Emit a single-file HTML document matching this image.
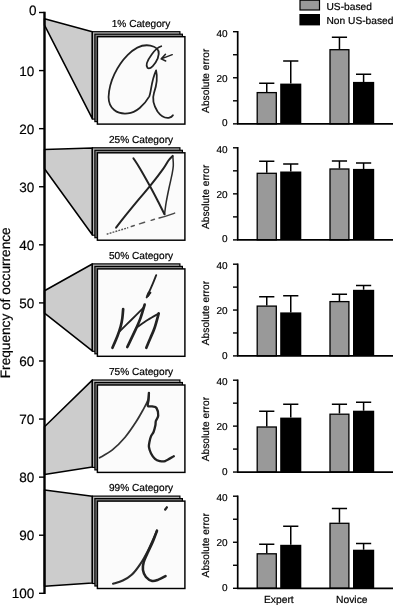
<!DOCTYPE html><html><head><meta charset="utf-8"><title>Figure</title>
<style>html,body{margin:0;padding:0;background:#fff}svg{display:block}text{font-family:"Liberation Sans",Arial,sans-serif;fill:#000;stroke:#000;stroke-width:0.2px;text-rendering:geometricPrecision}</style></head><body>
<svg width="393" height="605" viewBox="0 0 393 605">
<rect width="393" height="605" fill="#fff"/>
<polygon points="44.5,18.8 92.3,31.8 92.3,118.6 44.5,25.2" fill="#cccccc" stroke="#000" stroke-width="1.55" stroke-linejoin="round"/>
<polygon points="44.5,149.5 92.3,147.9 92.3,234.7 44.5,168.7" fill="#cccccc" stroke="#000" stroke-width="1.55" stroke-linejoin="round"/>
<polygon points="44.5,290.8 92.3,264.0 92.3,350.79999999999995 44.5,313.2" fill="#cccccc" stroke="#000" stroke-width="1.55" stroke-linejoin="round"/>
<polygon points="44.5,426.7 92.3,380.09999999999997 92.3,466.9 44.5,474.4" fill="#cccccc" stroke="#000" stroke-width="1.55" stroke-linejoin="round"/>
<polygon points="44.5,490.1 92.3,496.2 92.3,583.0 44.5,586.2" fill="#cccccc" stroke="#000" stroke-width="1.55" stroke-linejoin="round"/>
<line x1="44.5" y1="11.8" x2="44.5" y2="594.0" stroke="#000" stroke-width="2.4"/>
<line x1="39" y1="12.50" x2="44.5" y2="12.50" stroke="#000" stroke-width="1.4"/>
<text x="36.5" y="14.90" font-size="13.5" text-anchor="end">0</text>
<line x1="39" y1="70.58" x2="44.5" y2="70.58" stroke="#000" stroke-width="1.4"/>
<text x="34.2" y="75.58" font-size="13.5" text-anchor="end">10</text>
<line x1="39" y1="128.66" x2="44.5" y2="128.66" stroke="#000" stroke-width="1.4"/>
<text x="34.2" y="133.66" font-size="13.5" text-anchor="end">20</text>
<line x1="39" y1="186.74" x2="44.5" y2="186.74" stroke="#000" stroke-width="1.4"/>
<text x="34.2" y="191.74" font-size="13.5" text-anchor="end">30</text>
<line x1="39" y1="244.82" x2="44.5" y2="244.82" stroke="#000" stroke-width="1.4"/>
<text x="34.2" y="249.82" font-size="13.5" text-anchor="end">40</text>
<line x1="39" y1="302.90" x2="44.5" y2="302.90" stroke="#000" stroke-width="1.4"/>
<text x="34.2" y="307.90" font-size="13.5" text-anchor="end">50</text>
<line x1="39" y1="360.98" x2="44.5" y2="360.98" stroke="#000" stroke-width="1.4"/>
<text x="34.2" y="365.98" font-size="13.5" text-anchor="end">60</text>
<line x1="39" y1="419.06" x2="44.5" y2="419.06" stroke="#000" stroke-width="1.4"/>
<text x="34.2" y="424.06" font-size="13.5" text-anchor="end">70</text>
<line x1="39" y1="477.14" x2="44.5" y2="477.14" stroke="#000" stroke-width="1.4"/>
<text x="34.2" y="482.14" font-size="13.5" text-anchor="end">80</text>
<line x1="39" y1="535.22" x2="44.5" y2="535.22" stroke="#000" stroke-width="1.4"/>
<text x="34.2" y="540.22" font-size="13.5" text-anchor="end">90</text>
<line x1="39" y1="593.30" x2="44.5" y2="593.30" stroke="#000" stroke-width="1.4"/>
<text x="34.2" y="598.30" font-size="13.5" text-anchor="end">100</text>
<text transform="translate(9.6,302.8) rotate(-90)" font-size="13.65" text-anchor="middle">Frequency of occurrence</text>
<rect x="92.40" y="31.70" width="87.5" height="87.4" fill="#b4b4b4" stroke="#000" stroke-width="1.2"/>
<rect x="94.90" y="34.20" width="87.5" height="87.4" fill="#858585" stroke="#000" stroke-width="1.2"/>
<rect x="97.40" y="36.70" width="87.5" height="87.4" fill="#fbfbfb" stroke="#000" stroke-width="1.45"/>
<svg x="95" y="35.00" width="92" height="92" viewBox="0 0 393 393"><g fill="none" stroke="#222" stroke-width="6" stroke-linecap="round" stroke-linejoin="round">
<path d="M283 48 C270 52 256 64 243 82 C226 105 214 128 224 140 C236 150 258 124 268 100 C277 76 273 58 252 50 C215 35 175 50 140 85 C95 130 60 200 58 265 C58 315 95 340 140 335 C175 333 210 300 232 262 C241 240 239 200 261 151 C268 180 264 212 252 248 C244 272 247 295 267 327 C280 345 300 356 315 354 C325 352 330 348 333 343" stroke-width="7.5"/>
<path d="M330 84 L283 102 M301 82 L283 102 L302 111" stroke-width="6.5"/>
</g></svg>
<text x="141" y="27.30" font-size="10.15" text-anchor="middle">1% Category</text>
<rect x="92.40" y="147.80" width="87.5" height="87.4" fill="#b4b4b4" stroke="#000" stroke-width="1.2"/>
<rect x="94.90" y="150.30" width="87.5" height="87.4" fill="#858585" stroke="#000" stroke-width="1.2"/>
<rect x="97.40" y="152.80" width="87.5" height="87.4" fill="#fbfbfb" stroke="#000" stroke-width="1.45"/>
<svg x="95" y="151.10" width="92" height="92" viewBox="0 0 393 393"><g fill="none" stroke="#222" stroke-width="6" stroke-linecap="round" stroke-linejoin="round">
<path d="M297.0 270.0 C298.2 261.6 300.9 237.6 304.0 219.4 C307.1 201.2 311.4 180.3 315.5 160.7 C319.6 141.1 325.3 118.3 328.5 102.0 C331.7 85.7 333.8 76.2 334.5 62.9 C335.2 49.6 332.8 28.8 332.5 22.0" stroke-width="6.5" stroke="#2a2a2a"/>
<path d="M164.0 30.4 C168.9 38.0 181.4 55.9 193.3 76.0 C205.2 96.1 223.2 128.2 235.7 151.0 C248.2 173.8 258.1 193.1 268.3 212.9 C278.5 232.7 292.2 260.5 297.0 270.0 M332.0 20.6 C329.0 23.9 320.7 30.9 313.9 40.1 C307.1 49.3 303.6 58.6 291.1 76.0 C278.6 93.4 256.3 122.7 238.9 144.4 C221.5 166.1 205.3 184.1 186.8 206.4 C168.3 228.7 144.2 258.0 128.1 278.1 C112.0 298.2 96.3 318.9 90.0 327.0" stroke-width="8.5"/>
<path d="M50 355 L142 327" stroke="#555" stroke-width="6" stroke-linecap="butt" stroke-dasharray="8 5"/>
<path d="M155 322 L168 318 M190 311 L212 304 M240 296 L254 291" stroke="#555" stroke-width="6"/>
<path d="M274 286 C300 280 320 272 340 265" stroke="#444" stroke-width="6.5"/>
</g></svg>
<text x="141" y="143.27" font-size="10.15" text-anchor="middle">25% Category</text>
<rect x="92.40" y="263.90" width="87.5" height="87.4" fill="#b4b4b4" stroke="#000" stroke-width="1.2"/>
<rect x="94.90" y="266.40" width="87.5" height="87.4" fill="#858585" stroke="#000" stroke-width="1.2"/>
<rect x="97.40" y="268.90" width="87.5" height="87.4" fill="#fbfbfb" stroke="#000" stroke-width="1.45"/>
<svg x="95" y="267.20" width="92" height="92" viewBox="0 0 393 393"><g fill="none" stroke="#222" stroke-width="6" stroke-linecap="round" stroke-linejoin="round">
<path d="M261.5 34.0 C259.1 39.9 252.1 58.1 247.4 69.3 C242.7 80.5 237.8 91.0 233.3 101.0 C228.8 111.0 222.7 124.6 220.6 129.3 L237 109" stroke-width="8"/>
<path d="M226 120 L231 110" stroke-width="12"/>
<path d="M120.3 178.7 C119.7 185.2 118.5 205.2 116.8 217.5 C115.0 229.8 113.3 239.9 109.8 252.8 C106.3 265.7 101.5 279.8 95.6 295.1 C89.7 310.4 78.0 336.3 74.5 344.5 M212.1 160.0 C211.5 161.9 211.5 162.0 208.6 171.6 C205.7 181.2 200.3 201.6 194.4 217.5 C188.5 233.4 182.7 246.3 173.3 266.9 C163.9 287.5 143.9 328.6 138.0 341.0 M272.1 197.7 C269.2 208.0 260.3 242.4 254.4 259.8 C248.5 277.2 242.7 288.1 236.8 302.2 C230.9 316.3 222.1 337.4 219.2 344.5" stroke-width="11.5"/>
<path d="M103.0 276.0 C111.8 267.4 138.0 241.9 155.6 224.5 C173.2 207.1 199.8 180.4 208.6 171.6 M178.0 258.0 C186.0 252.4 210.5 234.6 226.2 224.5 C241.9 214.4 264.5 202.2 272.1 197.7" stroke-width="8"/>
</g></svg>
<text x="141" y="259.24" font-size="10.15" text-anchor="middle">50% Category</text>
<rect x="92.40" y="380.00" width="87.5" height="87.4" fill="#b4b4b4" stroke="#000" stroke-width="1.2"/>
<rect x="94.90" y="382.50" width="87.5" height="87.4" fill="#858585" stroke="#000" stroke-width="1.2"/>
<rect x="97.40" y="385.00" width="87.5" height="87.4" fill="#fbfbfb" stroke="#000" stroke-width="1.45"/>
<svg x="95" y="383.30" width="92" height="92" viewBox="0 0 393 393"><g fill="none" stroke="#222" stroke-width="6" stroke-linecap="round" stroke-linejoin="round">
<path d="M19.6 318.0 C28.5 312.6 54.8 300.3 73.0 285.7 C91.2 271.1 111.6 250.3 128.6 230.3 C145.6 210.3 161.7 185.7 174.8 165.6 C187.9 145.5 198.7 125.4 207.2 110.0 C215.7 94.6 221.8 84.5 225.7 73.0 C229.5 61.5 229.5 46.2 230.3 40.8" stroke-width="7.5" stroke="#333"/>
<path d="M230.3 40.8 C230.1 45.7 229.8 60.8 229.0 70.0 C228.2 79.2 223.2 91.5 225.7 96.3 C228.2 101.1 237.8 97.5 244.0 99.0 C250.2 100.5 258.3 99.0 262.6 105.5 C266.9 112.0 270.4 128.7 270.0 137.9 C269.6 147.2 261.9 154.1 259.9 161.0 C257.9 167.9 259.6 171.8 258.0 179.5 C256.4 187.2 253.7 199.5 250.6 207.2 C247.5 214.9 242.4 218.8 239.5 225.7 C236.6 232.6 234.5 241.1 233.0 248.8 C231.5 256.5 229.2 263.4 230.3 271.9 C231.4 280.4 235.2 291.1 239.5 299.6 C243.8 308.1 250.0 317.3 256.2 322.7 C262.4 328.1 269.3 330.4 276.5 332.0 C283.7 333.6 289.6 335.4 299.6 332.0 C309.6 328.6 330.4 315.0 336.6 311.6" stroke-width="10"/>
</g></svg>
<text x="141" y="375.21" font-size="10.15" text-anchor="middle">75% Category</text>
<rect x="92.40" y="496.10" width="87.5" height="87.4" fill="#b4b4b4" stroke="#000" stroke-width="1.2"/>
<rect x="94.90" y="498.60" width="87.5" height="87.4" fill="#858585" stroke="#000" stroke-width="1.2"/>
<rect x="97.40" y="501.10" width="87.5" height="87.4" fill="#fbfbfb" stroke="#000" stroke-width="1.45"/>
<svg x="95" y="499.40" width="92" height="92" viewBox="0 0 393 393"><g fill="none" stroke="#222" stroke-width="6" stroke-linecap="round" stroke-linejoin="round">
<path d="M300 43 L307 34" stroke-width="10"/>
<path d="M76.9 360.2 C83.9 357.9 105.5 352.8 118.8 346.5 C132.1 340.2 144.1 334.2 156.8 322.2 C169.5 310.2 183.4 291.2 194.8 274.3 C206.2 257.4 216.3 238.1 225.2 221.0 C234.1 203.9 241.5 186.2 248.1 171.6 C254.7 157.0 262.0 139.9 264.8 133.6" stroke-width="9" stroke="#2a2a2a"/>
<path d="M264.8 133.6 C261.7 141.8 252.8 166.9 246.0 183.0 C239.2 199.1 230.3 215.8 224.0 230.0 C217.7 244.2 211.2 256.2 208.0 268.0 C204.8 279.8 203.1 290.3 204.7 300.9 C206.3 311.4 211.0 323.4 217.6 331.3 C224.2 339.2 235.4 346.2 244.3 348.1 C253.2 350.0 261.4 346.1 270.9 342.7 C280.4 339.3 296.2 330.0 301.3 327.5" stroke-width="11"/>
</g></svg>
<text x="141" y="491.18" font-size="10.15" text-anchor="middle">99% Category</text>
<path d="M266.75 92.00V83.20M259.15 83.20H274.35" stroke="#000" stroke-width="1.5" fill="none"/>
<rect x="257.20" y="92.60" width="19.10" height="31.25" fill="#999999" stroke="#000" stroke-width="1.3"/>
<path d="M290.75 83.60V61.10M283.15 61.10H298.35" stroke="#000" stroke-width="1.5" fill="none"/>
<rect x="280.20" y="83.60" width="21.10" height="40.25" fill="#000"/>
<path d="M339.45 49.10V37.20M331.85 37.20H347.05" stroke="#000" stroke-width="1.5" fill="none"/>
<rect x="330.00" y="49.70" width="18.90" height="74.15" fill="#999999" stroke="#000" stroke-width="1.3"/>
<path d="M363.60 81.90V74.30M356.00 74.30H371.20" stroke="#000" stroke-width="1.5" fill="none"/>
<rect x="353.00" y="81.90" width="21.20" height="41.95" fill="#000"/>
<path d="M237.7 31.00V123.85M237.0 123.85H394" stroke="#000" stroke-width="1.7" fill="none"/>
<line x1="233" y1="31.70" x2="237.7" y2="31.70" stroke="#000" stroke-width="1.4"/>
<text x="227.6" y="36.60" font-size="10" text-anchor="end">40</text>
<line x1="233" y1="54.74" x2="237.7" y2="54.74" stroke="#000" stroke-width="1.4"/>
<line x1="233" y1="77.77" x2="237.7" y2="77.77" stroke="#000" stroke-width="1.4"/>
<text x="227.6" y="81.75" font-size="10" text-anchor="end">20</text>
<line x1="233" y1="100.81" x2="237.7" y2="100.81" stroke="#000" stroke-width="1.4"/>
<line x1="233" y1="123.85" x2="237.7" y2="123.85" stroke="#000" stroke-width="1.4"/>
<text x="227.6" y="126.30" font-size="10" text-anchor="end">0</text>
<text transform="translate(208.7,80.77) rotate(-90)" font-size="10.25" text-anchor="middle">Absolute error</text>
<path d="M266.75 172.70V161.30M259.15 161.30H274.35" stroke="#000" stroke-width="1.5" fill="none"/>
<rect x="257.20" y="173.30" width="19.10" height="66.60" fill="#999999" stroke="#000" stroke-width="1.3"/>
<path d="M290.75 171.50V164.00M283.15 164.00H298.35" stroke="#000" stroke-width="1.5" fill="none"/>
<rect x="280.20" y="171.50" width="21.10" height="68.40" fill="#000"/>
<path d="M339.45 168.40V161.00M331.85 161.00H347.05" stroke="#000" stroke-width="1.5" fill="none"/>
<rect x="330.00" y="169.00" width="18.90" height="70.90" fill="#999999" stroke="#000" stroke-width="1.3"/>
<path d="M363.60 168.90V163.00M356.00 163.00H371.20" stroke="#000" stroke-width="1.5" fill="none"/>
<rect x="353.00" y="168.90" width="21.20" height="71.00" fill="#000"/>
<path d="M237.7 147.10V239.90M237.0 239.90H394" stroke="#000" stroke-width="1.7" fill="none"/>
<line x1="233" y1="147.80" x2="237.7" y2="147.80" stroke="#000" stroke-width="1.4"/>
<text x="227.6" y="152.70" font-size="10" text-anchor="end">40</text>
<line x1="233" y1="170.83" x2="237.7" y2="170.83" stroke="#000" stroke-width="1.4"/>
<line x1="233" y1="193.85" x2="237.7" y2="193.85" stroke="#000" stroke-width="1.4"/>
<text x="227.6" y="197.85" font-size="10" text-anchor="end">20</text>
<line x1="233" y1="216.88" x2="237.7" y2="216.88" stroke="#000" stroke-width="1.4"/>
<line x1="233" y1="239.90" x2="237.7" y2="239.90" stroke="#000" stroke-width="1.4"/>
<text x="227.6" y="242.40" font-size="10" text-anchor="end">0</text>
<text transform="translate(208.7,196.85) rotate(-90)" font-size="10.25" text-anchor="middle">Absolute error</text>
<path d="M266.75 305.50V296.70M259.15 296.70H274.35" stroke="#000" stroke-width="1.5" fill="none"/>
<rect x="257.20" y="306.10" width="19.10" height="49.80" fill="#999999" stroke="#000" stroke-width="1.3"/>
<path d="M290.75 312.40V295.70M283.15 295.70H298.35" stroke="#000" stroke-width="1.5" fill="none"/>
<rect x="280.20" y="312.40" width="21.10" height="43.50" fill="#000"/>
<path d="M339.45 301.00V294.20M331.85 294.20H347.05" stroke="#000" stroke-width="1.5" fill="none"/>
<rect x="330.00" y="301.60" width="18.90" height="54.30" fill="#999999" stroke="#000" stroke-width="1.3"/>
<path d="M363.60 289.80V285.40M356.00 285.40H371.20" stroke="#000" stroke-width="1.5" fill="none"/>
<rect x="353.00" y="289.80" width="21.20" height="66.10" fill="#000"/>
<path d="M237.7 263.50V355.90M237.0 355.90H394" stroke="#000" stroke-width="1.7" fill="none"/>
<line x1="233" y1="264.20" x2="237.7" y2="264.20" stroke="#000" stroke-width="1.4"/>
<text x="227.6" y="269.10" font-size="10" text-anchor="end">40</text>
<line x1="233" y1="287.12" x2="237.7" y2="287.12" stroke="#000" stroke-width="1.4"/>
<line x1="233" y1="310.05" x2="237.7" y2="310.05" stroke="#000" stroke-width="1.4"/>
<text x="227.6" y="314.25" font-size="10" text-anchor="end">20</text>
<line x1="233" y1="332.97" x2="237.7" y2="332.97" stroke="#000" stroke-width="1.4"/>
<line x1="233" y1="355.90" x2="237.7" y2="355.90" stroke="#000" stroke-width="1.4"/>
<text x="227.6" y="358.80" font-size="10" text-anchor="end">0</text>
<text transform="translate(208.7,313.05) rotate(-90)" font-size="10.25" text-anchor="middle">Absolute error</text>
<path d="M266.75 426.40V411.20M259.15 411.20H274.35" stroke="#000" stroke-width="1.5" fill="none"/>
<rect x="257.20" y="427.00" width="19.10" height="45.05" fill="#999999" stroke="#000" stroke-width="1.3"/>
<path d="M290.75 417.60V404.30M283.15 404.30H298.35" stroke="#000" stroke-width="1.5" fill="none"/>
<rect x="280.20" y="417.60" width="21.10" height="54.45" fill="#000"/>
<path d="M339.45 413.60V404.30M331.85 404.30H347.05" stroke="#000" stroke-width="1.5" fill="none"/>
<rect x="330.00" y="414.20" width="18.90" height="57.85" fill="#999999" stroke="#000" stroke-width="1.3"/>
<path d="M363.60 410.70V402.30M356.00 402.30H371.20" stroke="#000" stroke-width="1.5" fill="none"/>
<rect x="353.00" y="410.70" width="21.20" height="61.35" fill="#000"/>
<path d="M237.7 379.50V472.05M237.0 472.05H394" stroke="#000" stroke-width="1.7" fill="none"/>
<line x1="233" y1="380.20" x2="237.7" y2="380.20" stroke="#000" stroke-width="1.4"/>
<text x="227.6" y="385.10" font-size="10" text-anchor="end">40</text>
<line x1="233" y1="403.16" x2="237.7" y2="403.16" stroke="#000" stroke-width="1.4"/>
<line x1="233" y1="426.12" x2="237.7" y2="426.12" stroke="#000" stroke-width="1.4"/>
<text x="227.6" y="430.25" font-size="10" text-anchor="end">20</text>
<line x1="233" y1="449.09" x2="237.7" y2="449.09" stroke="#000" stroke-width="1.4"/>
<line x1="233" y1="472.05" x2="237.7" y2="472.05" stroke="#000" stroke-width="1.4"/>
<text x="227.6" y="474.80" font-size="10" text-anchor="end">0</text>
<text transform="translate(208.7,429.12) rotate(-90)" font-size="10.25" text-anchor="middle">Absolute error</text>
<path d="M266.75 553.20V544.30M259.15 544.30H274.35" stroke="#000" stroke-width="1.5" fill="none"/>
<rect x="257.20" y="553.80" width="19.10" height="34.50" fill="#999999" stroke="#000" stroke-width="1.3"/>
<path d="M290.75 544.80V526.20M283.15 526.20H298.35" stroke="#000" stroke-width="1.5" fill="none"/>
<rect x="280.20" y="544.80" width="21.10" height="43.50" fill="#000"/>
<path d="M339.45 522.70V508.50M331.85 508.50H347.05" stroke="#000" stroke-width="1.5" fill="none"/>
<rect x="330.00" y="523.30" width="18.90" height="65.00" fill="#999999" stroke="#000" stroke-width="1.3"/>
<path d="M363.60 549.70V543.40M356.00 543.40H371.20" stroke="#000" stroke-width="1.5" fill="none"/>
<rect x="353.00" y="549.70" width="21.20" height="38.60" fill="#000"/>
<path d="M237.7 495.50V588.30M237.0 588.30H394" stroke="#000" stroke-width="1.7" fill="none"/>
<line x1="233" y1="496.20" x2="237.7" y2="496.20" stroke="#000" stroke-width="1.4"/>
<text x="227.6" y="501.10" font-size="10" text-anchor="end">40</text>
<line x1="233" y1="519.23" x2="237.7" y2="519.23" stroke="#000" stroke-width="1.4"/>
<line x1="233" y1="542.25" x2="237.7" y2="542.25" stroke="#000" stroke-width="1.4"/>
<text x="227.6" y="546.25" font-size="10" text-anchor="end">20</text>
<line x1="233" y1="565.27" x2="237.7" y2="565.27" stroke="#000" stroke-width="1.4"/>
<line x1="233" y1="588.30" x2="237.7" y2="588.30" stroke="#000" stroke-width="1.4"/>
<text x="227.6" y="590.80" font-size="10" text-anchor="end">0</text>
<text transform="translate(208.7,545.25) rotate(-90)" font-size="10.25" text-anchor="middle">Absolute error</text>
<text x="278.8" y="602.9" font-size="10.3" text-anchor="middle">Expert</text>
<text x="351.8" y="602.9" font-size="10.3" text-anchor="middle">Novice</text>
<rect x="300" y="0.2" width="19.5" height="9.8" fill="#999999" stroke="#000" stroke-width="1.2"/>
<rect x="299.4" y="14" width="20.6" height="11.4" fill="#000"/>
<text x="326.5" y="9.7" font-size="10.2">US-based</text>
<text x="326.5" y="24.3" font-size="10.2">Non US-based</text>
</svg></body></html>
